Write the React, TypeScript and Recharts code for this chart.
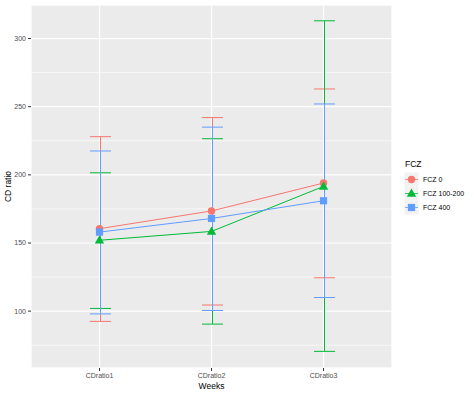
import React from 'react';
import { ComposedChart, Line, Bar, XAxis, YAxis, CartesianGrid, Label } from 'recharts';

const categories = ['CDratio1', 'CDratio2', 'CDratio3'];

const fcz0Mean = [160.5, 173.5, 194];
const fcz0Low = [92.5, 104.5, 124.5];
const fcz0High = [228, 242, 263];

const fcz100Mean = [152, 158.5, 191.5];
const fcz100Low = [102, 90.5, 70.5];
const fcz100High = [201.5, 226.5, 313];

const fcz400Mean = [158, 168, 181];
const fcz400Low = [98, 100.5, 110];
const fcz400High = [217.5, 235, 252];

const yTicks = [100, 150, 200, 250, 300];
const yMinorTicks = [75, 125, 175, 225, 275];

const RED = '#F8766D';
const GREEN = '#00BA38';
const BLUE = '#619CFF';
const FONT = '"Liberation Sans", Arial, sans-serif';

const rows = categories.map((week, i) => ({
  week,
  fcz0: fcz0Mean[i],
  fcz0Range: [fcz0Low[i], fcz0High[i]],
  fcz100: fcz100Mean[i],
  fcz100Range: [fcz100Low[i], fcz100High[i]],
  fcz400: fcz400Mean[i],
  fcz400Range: [fcz400Low[i], fcz400High[i]],
}));

// error bar drawn from the range bar's box: whisker + two caps
const whisker = (color: string) => (p: any) => {
  const mid = Math.round(p.x + p.width / 2) + 0.5;
  const top = p.y;
  const bottom = p.y + p.height;
  return (
    <g key={`w-${color}-${p.index}`}>
      <line x1={mid} x2={mid} y1={top} y2={bottom} stroke={color} strokeWidth={1} />
      <line x1={mid - 10.5} x2={mid + 10.5} y1={top} y2={top} stroke={color} strokeWidth={1} />
      <line x1={mid - 10.5} x2={mid + 10.5} y1={bottom} y2={bottom} stroke={color} strokeWidth={1} />
    </g>
  );
};

const CircleDot = (p: any) =>
  p.cx == null ? null : <circle key={`c-${p.index}`} cx={p.cx} cy={p.cy} r={3.7} fill={RED} />;

const TriangleDot = (p: any) =>
  p.cx == null ? null : (
    <polygon
      key={`t-${p.index}`}
      points={`${p.cx - 4.7},${p.cy + 3.3} ${p.cx + 4.7},${p.cy + 3.3} ${p.cx},${p.cy - 5}`}
      fill={GREEN}
    />
  );

const SquareDot = (p: any) =>
  p.cx == null ? null : (
    <rect key={`s-${p.index}`} x={p.cx - 3.6} y={p.cy - 3.6} width={7.2} height={7.2} fill={BLUE} />
  );

const legendItems = [
  { label: 'FCZ 0', color: RED, shape: 'circle' },
  { label: 'FCZ 100-200', color: GREEN, shape: 'triangle' },
  { label: 'FCZ 400', color: BLUE, shape: 'square' },
];

const LegendBox = () => (
  <svg width={474} height={395} style={{ position: 'absolute', left: 0, top: 0, pointerEvents: 'none' }}>
    <text x={405} y={167} fontSize={8.5} fontFamily={FONT} fill="#000">FCZ</text>
    {legendItems.map((it, i) => {
      const cy = 179.5 + i * 14;
      const cx = 411.5;
      return (
        <g key={it.label}>
          <rect x={404.5} y={cy - 7} width={14} height={14} fill="#F2F2F2" />
          <line x1={405} x2={418} y1={cy} y2={cy} stroke={it.color} strokeWidth={0.8} />
          {it.shape === 'circle' && <circle cx={cx} cy={cy} r={3.7} fill={it.color} />}
          {it.shape === 'triangle' && (
            <polygon points={`${cx - 4.7},${cy + 3.3} ${cx + 4.7},${cy + 3.3} ${cx},${cy - 5}`} fill={it.color} />
          )}
          {it.shape === 'square' && <rect x={cx - 3.6} y={cy - 3.6} width={7.2} height={7.2} fill={it.color} />}
          <text x={423} y={cy + 2.5} fontSize={7} fontFamily={FONT} fill="#000">{it.label}</text>
        </g>
      );
    })}
  </svg>
);

const PAD = { left: 12.5, right: 12.5 };

export default function App() {
  const tickStyle = { fontSize: 7, fill: '#4D4D4D', fontFamily: FONT };
  return (
    <div style={{ position: 'absolute', left: 0, top: 0, width: 474, height: 395, background: '#fff' }}>
      <ComposedChart width={474} height={395} data={rows} margin={{ top: 5, right: 82, bottom: 0, left: 0 }}>
        <CartesianGrid fill="#EBEBEB" stroke="#FFFFFF" strokeWidth={1.2} />
        <CartesianGrid yAxisId="minor" vertical={false} stroke="#FFFFFF" strokeWidth={0.6} />
        <XAxis
          dataKey="week"
          padding={PAD}
          height={27}
          axisLine={false}
          tickLine={{ stroke: '#333333' }}
          tickSize={3}
          tick={tickStyle}
          interval={0}
        >
          <Label
            content={({ viewBox }: any) => (
              <text
                x={viewBox.x + viewBox.width / 2}
                y={389}
                textAnchor="middle"
                fontSize={8.5}
                fontFamily={FONT}
                fill="#000"
              >
                Weeks
              </text>
            )}
          />
        </XAxis>
        <XAxis xAxisId="e0" dataKey="week" padding={PAD} hide />
        <XAxis xAxisId="e1" dataKey="week" padding={PAD} hide />
        <XAxis xAxisId="e2" dataKey="week" padding={PAD} hide />
        <YAxis
          domain={[58.3, 324.6]}
          ticks={yTicks}
          allowDataOverflow
          width={31}
          axisLine={false}
          tickLine={{ stroke: '#333333' }}
          tickSize={3}
          tickMargin={2}
          tick={tickStyle}
        >
          <Label
            content={({ viewBox }: any) => {
              const cy = viewBox.y + viewBox.height / 2;
              return (
                <text
                  x={11}
                  y={cy}
                  transform={`rotate(-90 11 ${cy})`}
                  textAnchor="middle"
                  fontSize={8.5}
                  fontFamily={FONT}
                  fill="#000"
                >
                  CD ratio
                </text>
              );
            }}
          />
        </YAxis>
        <YAxis yAxisId="minor" hide domain={[58.3, 324.6]} ticks={yMinorTicks} allowDataOverflow />
        <Bar xAxisId="e0" dataKey="fcz0Range" barSize={21} shape={whisker(RED)} isAnimationActive={false} />
        <Bar xAxisId="e1" dataKey="fcz100Range" barSize={21} shape={whisker(GREEN)} isAnimationActive={false} />
        <Bar xAxisId="e2" dataKey="fcz400Range" barSize={21} shape={whisker(BLUE)} isAnimationActive={false} />
        <Line dataKey="fcz0" stroke={RED} strokeWidth={1} dot={CircleDot} activeDot={false} isAnimationActive={false} />
        <Line dataKey="fcz100" stroke={GREEN} strokeWidth={1} dot={TriangleDot} activeDot={false} isAnimationActive={false} />
        <Line dataKey="fcz400" stroke={BLUE} strokeWidth={1} dot={SquareDot} activeDot={false} isAnimationActive={false} />
      </ComposedChart>
      <LegendBox />
    </div>
  );
}
